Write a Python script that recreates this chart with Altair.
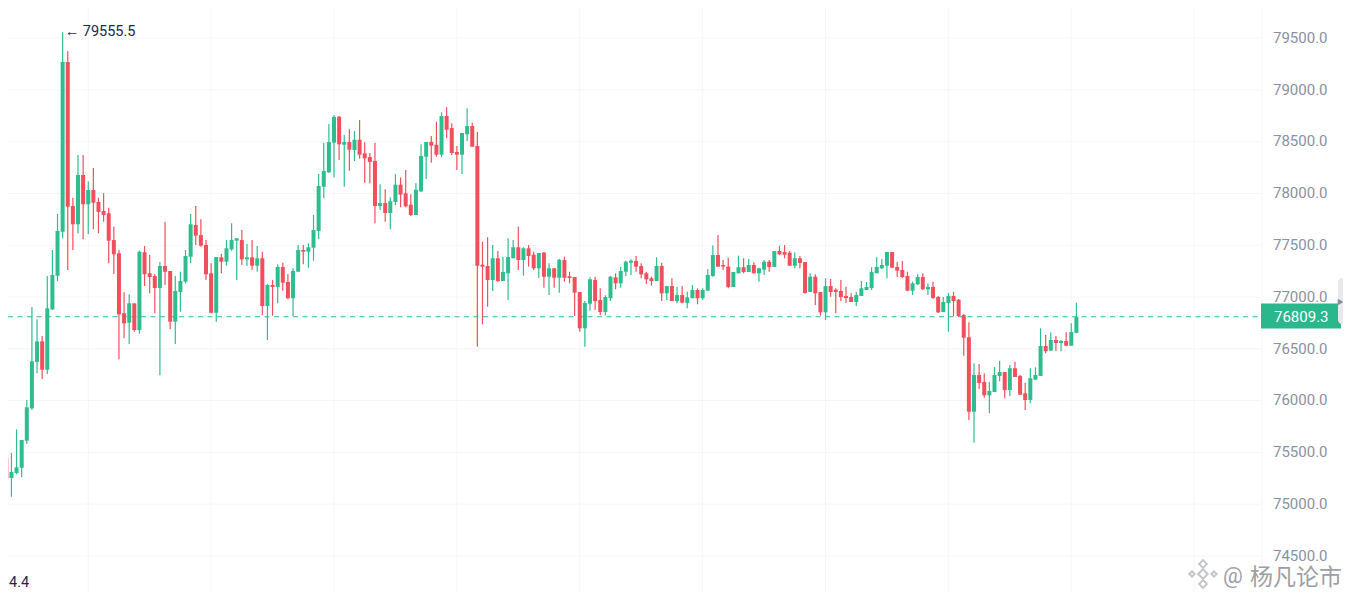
import altair as alt
import pandas as pd

opens = [
75253,75443,75253,75301,75352,75613,75926,76373,76572,76298,
76881,77206,77630,79268,77878,77702,78178,77895,78033,77917,
77830,77808,77550,77422,76843,76752,76939,76681,77432,77229,
77203,77087,77299,77251,76762,77048,77148,77389,77695,77598,
77502,77229,76848,77383,77341,77460,77544,77550,77364,77383,
77302,77374,76913,77116,77097,77290,77145,76988,77244,77454,
77437,77476,77637,78065,78204,78490,78740,78470,78496,78419,
78518,78387,78351,78313,77878,77907,77811,77917,78084,78001,
77891,77792,78020,78354,78496,78470,78374,78747,78631,78400,
78374,78571,78651,78458,77312,77299,77164,77374,77154,77229,
77374,77480,77357,77470,77408,77277,77428,77196,77277,77186,
77357,77200,77193,77048,76698,76935,77164,76971,76855,76988,
77190,77132,77244,77331,77348,77299,77229,77181,77154,77299,
77036,77106,76961,77019,76942,76988,77068,76988,77061,77203,
77405,77309,77293,77097,77229,77287,77241,77309,77229,77264,
77341,77290,77444,77434,77428,77302,77374,77338,77048,77196,
77048,76852,77106,77071,77058,77010,77000,76952,77010,77068,
77087,77229,77277,77302,77434,77290,77261,77203,77061,77123,
77193,77074,77097,77000,76855,76942,77010,76974,76826,76611,
75893,76247,76180,76051,76083,76238,76276,76102,76312,76238,
76071,76006,76202,76238,76527,76482,76585,76556,76575,76530,
76653]

closes = [
75443,75246,75311,75356,75620,75935,76379,76572,76298,76891,
77212,77637,79268,77872,77702,78178,77895,78033,77910,77821,
77792,77544,77412,76833,76746,76939,76681,77437,77219,77193,
77087,77299,77244,76762,77058,77154,77396,77702,77592,77495,
77219,76848,77386,77341,77470,77550,77567,77364,77383,77302,
77374,76913,77116,77097,77290,77138,76988,77251,77454,77437,
77480,77647,78072,78216,78496,78740,78474,78496,78422,78518,
78374,78339,78303,77878,77907,77811,77924,78084,77988,77876,
77792,78036,78361,78496,78461,78374,78747,78615,78390,78374,
78583,78651,78451,77302,77293,77164,77374,77154,77241,77386,
77480,77357,77470,77396,77277,77425,77196,77277,77186,77360,
77186,77183,77042,76698,76942,77171,76961,76855,77000,77196,
77132,77251,77341,77350,77293,77219,77171,77154,77299,77036,
77106,76961,77019,76945,76997,77068,76988,77068,77212,77405,
77293,77293,77097,77241,77287,77241,77309,77229,77277,77341,
77290,77444,77412,77408,77302,77374,77328,77039,77196,77036,
76852,77106,77048,77048,77000,76990,76952,77019,77084,77097,
77241,77290,77309,77434,77283,77254,77193,77061,77132,77193,
77074,77097,76990,76852,76952,77010,76961,76817,76607,75893,
76247,76170,76051,76093,76247,76276,76102,76312,76228,76057,
76006,76215,76247,76527,76476,76585,76556,76575,76530,76662,
76809.3]

highs = [
75494,75507,75494,75723,75620,76006,76903,76785,76624,77203,
77454,77801,79555.5,79375,77959,78371,78371,78117,78245,77959,
78001,77862,77679,77454,77045,77026,76939,77447,77492,77405,
77222,77338,77727,77251,77203,77244,77454,77801,77878,77750,
77550,77325,77386,77415,77550,77711,77567,77647,77512,77550,
77492,77437,77123,77164,77316,77331,77222,77277,77502,77502,
77518,77792,78187,78490,78670,78757,78747,78564,78619,78602,
78709,78493,78390,78490,78088,78040,77962,78187,78155,78226,
77991,78098,78474,78496,78554,78692,78783,78831,78677,78458,
78583,78822,78683,78593,77534,77576,77502,77444,77389,77567,
77550,77679,77480,77502,77437,77425,77437,77325,77277,77367,
77389,77244,77193,77048,76961,77190,77196,77084,77016,77203,
77229,77293,77350,77364,77396,77325,77244,77196,77383,77331,
77106,77181,77100,77106,77051,77116,77084,77084,77270,77497,
77598,77357,77379,77241,77399,77374,77367,77335,77283,77357,
77357,77444,77492,77502,77444,77432,77396,77338,77229,77219,
77048,77181,77174,77084,77164,77100,77036,77051,77154,77145,
77287,77383,77367,77434,77434,77341,77348,77244,77148,77219,
77229,77132,77148,77010,77000,77039,77051,76981,76836,76756,
76360,76353,76264,76182,76324,76385,76276,76344,76376,76247,
76173,76312,76321,76698,76633,76659,76624,76585,76659,76746,
76945]

lows = [
75185,75238,75072,75289,75260,75584,75909,76264,76208,76257,
76875,77154,77567,77261,77454,77615,77557,77608,77654,77615,
77727,77325,77222,76399,76601,76546,76665,76646,77106,77036,
76843,76244,77116,76688,76546,76858,77132,77325,77502,77486,
77164,76843,76762,77229,77302,77447,77164,77309,77299,77261,
77244,76826,76585,76820,76939,77061,76978,76817,77244,77316,
77283,77350,77557,77953,78197,78155,78322,78065,78219,78313,
78335,78103,78098,77711,77840,77727,77654,77885,77866,77866,
77782,77792,78014,78139,78296,78354,78349,78535,78371,78226,
78187,78506,78451,76520,76736,76906,77058,77148,77154,76971,
77374,77261,77206,77293,77261,77186,77090,77019,77090,77042,
77148,77132,76817,76665,76520,76868,76875,76823,76823,76961,
77074,77090,77203,77212,77244,77181,77125,77109,77154,76961,
76971,76961,76939,76939,76891,76988,76930,76971,77061,77196,
77293,77261,77084,77097,77229,77229,77241,77229,77148,77212,
77244,77290,77405,77374,77302,77277,77277,77032,77048,76923,
76820,76778,77003,76843,76961,76945,76952,76913,77010,77068,
77068,77229,77267,77181,77277,77196,77181,77058,77019,77116,
77071,77019,76984,76846,76855,76665,76814,76807,76433,75813,
75594,76112,76028,75877,76083,76186,76022,76044,76228,76057,
75909,75974,76202,76238,76457,76482,76479,76476,76524,76530,
76650]

y_ticks = [74500, 75000, 75500, 76000, 76500, 77000, 77500, 78000, 78500, 79000, 79500]
x_grid = [17, 41, 65, 89, 113, 137, 161, 185, 209, 233]
last_price = 76809.3
high_price = 79555.5
high_index = 12
high_label = "← 79555.5"
low_label = "4.4"
watermark = "杨凡论市"

GREEN = "#2ebd8f"
RED = "#f24f5c"
GRID = "#f5f6f8"
FONT = "Roboto"
W, H = 1335, 585

n = len(opens)
df = pd.DataFrame({
    "i": list(range(n)), "o": opens, "c": closes, "h": highs, "l": lows,
})
df["dir"] = ["up" if c >= o else "down" for o, c in zip(opens, closes)]

x_scale = alt.Scale(domain=[1.328, 262.07], nice=False, zero=False, padding=0)
y_scale = alt.Scale(domain=[74142.8, 79789.8], nice=False, zero=False)
y_axis = alt.Axis(
    orient="right", offset=-81.5, values=y_ticks, format=".1f", title=None,
    grid=False, ticks=False, domain=True, domainColor="#f4f5f7", domainWidth=1,
    labelColor="#8a919f", labelFont=FONT, labelFontSize=15, labelPadding=11, labelAlign="left",
    labelOffset=-0.8,
)
color = alt.Color("dir:N", scale=alt.Scale(domain=["up", "down"], range=[GREEN, RED]), legend=None)
X = alt.X("i:Q", scale=x_scale, axis=None)
one = alt.Chart(alt.Data(values=[{"a": 1}]))

h_grid = alt.Chart(pd.DataFrame({"p": y_ticks})).mark_rule(color=GRID, strokeWidth=1).encode(
    y=alt.Y("p:Q", scale=y_scale, axis=y_axis),
    x=alt.value(0), x2=alt.value(1253.5),
)
v_grid = alt.Chart(pd.DataFrame({"i": x_grid})).mark_rule(color=GRID, strokeWidth=1).encode(
    x=X, y=alt.value(0), y2=alt.value(H),
)
price_line = alt.Chart(pd.DataFrame({"p": [last_price]})).mark_rule(
    color=GREEN, strokeWidth=1, strokeDash=[5, 4.5]
).encode(y=alt.Y("p:Q", scale=y_scale, axis=y_axis), x=alt.value(0), x2=alt.value(1253.5))

wicks = alt.Chart(df).mark_rule(strokeWidth=1.2).encode(
    x=X, y=alt.Y("l:Q", scale=y_scale, axis=y_axis), y2="h:Q", color=color,
)
bodies = alt.Chart(df).mark_bar(size=4, orient="vertical").encode(
    x=X, y=alt.Y("o:Q", scale=y_scale, axis=y_axis), y2="c:Q", color=color,
)

high_text = alt.Chart(pd.DataFrame({"i": [high_index], "p": [high_price], "t": [high_label]})).mark_text(
    align="left", baseline="middle", dx=2, dy=0, font=FONT, fontSize=14.5, color="#1b2a49"
).encode(x=X, y=alt.Y("p:Q", scale=y_scale, axis=y_axis), text="t:N")
low_text = one.mark_text(align="left", baseline="middle", font=FONT, fontSize=14.5, color="#1b2a49").encode(
    x=alt.value(1), y=alt.value(575), text=alt.value(low_label))

tag = one.mark_rect(color="#2bb78c").encode(
    x=alt.value(1253), x2=alt.value(1333), y=alt.value(295.5), y2=alt.value(320.5))
tag_text = alt.Chart(pd.DataFrame({"p": [last_price]})).mark_text(
    align="left", baseline="middle", font=FONT, fontSize=15, color="white"
).encode(x=alt.value(1266), y=alt.value(308.5), text=alt.Text("p:Q", format=".1f"))

handle = one.mark_rect(color="#e7e9ee", cornerRadius=4).encode(
    x=alt.value(1330), x2=alt.value(1345), y=alt.value(270), y2=alt.value(316))
handle_tri = one.mark_point(shape="triangle-right", filled=True, color="#868c99", size=40, opacity=1).encode(
    x=alt.value(1332.5), y=alt.value(294))

wm_big = one.mark_text(align="left", baseline="middle", font="Noto Sans CJK SC", fontSize=23, color="#9d9fa3").encode(
    x=alt.value(1242), y=alt.value(570), text=alt.value(watermark))
wm_at = one.mark_text(align="left", baseline="middle", font=FONT, fontSize=22, color="#9d9fa3").encode(
    x=alt.value(1215), y=alt.value(568), text=alt.value("@"))
wm_logo = [
    one.mark_point(shape="diamond", filled=False, color="#c4c6c9", strokeWidth=2, size=s, opacity=1).encode(
        x=alt.value(px), y=alt.value(py))
    for px, py, s in [(1195, 566, 90), (1184, 566, 28), (1206, 566, 28), (1195, 556, 60), (1195, 576, 60)]
]

chart = alt.layer(
    h_grid, v_grid, price_line, wicks, bodies, high_text, low_text,
    tag, tag_text, handle, handle_tri, *wm_logo, wm_at, wm_big,
).properties(
    width=W, height=H, padding=0, autosize=alt.AutoSizeParams(type="none"), background="white",
).configure_view(stroke=None)

chart.save("out.html", embed_options={"renderer": "svg", "actions": False})
